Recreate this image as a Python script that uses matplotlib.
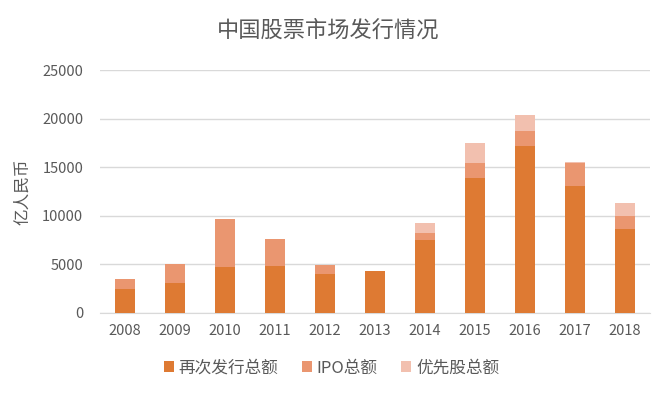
import matplotlib
matplotlib.use("Agg")
import matplotlib.pyplot as plt
import numpy as np

plt.rcParams['font.family'] = ['Noto Sans CJK SC', 'DejaVu Sans']

years = ['2008', '2009', '2010', '2011', '2012', '2013', '2014', '2015', '2016', '2017', '2018']
secondary = [2460, 3110, 4760, 4860, 3970, 4310, 7530, 13860, 17150, 13040, 8620]
ipo = [1030, 1920, 4920, 2770, 990, 0, 680, 1540, 1540, 2390, 1410]
preferred = [0, 0, 0, 0, 0, 0, 1030, 2050, 1640, 140, 1260]
series_names = ['再次发行总额', 'IPO总额', '优先股总额']
colors = ['#DE7A33', '#EA9670', '#F2C0AF']

fig = plt.figure(figsize=(6.72, 4.03), dpi=100)
ax = fig.add_axes([100/672, (403-313)/403, 550/672, (313-70)/403])

x = np.arange(len(years))
w = 0.4
b1 = np.array(secondary)
b2 = b1 + np.array(ipo)
ax.bar(x, secondary, w, color=colors[0], label=series_names[0], zorder=3)
ax.bar(x, ipo, w, bottom=b1, color=colors[1], label=series_names[1], zorder=3)
ax.bar(x, preferred, w, bottom=b2, color=colors[2], label=series_names[2], zorder=3)

ax.set_xlim(-0.5, len(years) - 0.5)
ax.set_ylim(0, 25000)
ax.set_yticks(np.arange(0, 25001, 5000))
ax.set_xticks(x)
ax.set_xticklabels(years)
ax.tick_params(axis='both', length=0, colors='#595959', labelsize=10.5)
ax.tick_params(axis='x', pad=8)
ax.tick_params(axis='y', pad=12)
ax.grid(axis='y', color='#D9D9D9', linewidth=1, zorder=0)
for s in ['top', 'right', 'left']:
    ax.spines[s].set_visible(False)
ax.spines['bottom'].set_color('#D9D9D9')

fig.text(0.488, 0.925, '中国股票市场发行情况', ha='center', va='center', fontsize=16, color='#595959')
fig.text(0.034, 0.525, '亿人民币', ha='center', va='center', rotation=90, fontsize=12, color='#595959')

leg = fig.legend(loc='center', bbox_to_anchor=(0.493, 0.087), ncol=3, frameon=False,
                 fontsize=12, handlelength=0.6, handleheight=0.6, handletextpad=0.3, columnspacing=1.4)
for t in leg.get_texts():
    t.set_color('#595959')

fig.savefig('out.png', dpi=100)
